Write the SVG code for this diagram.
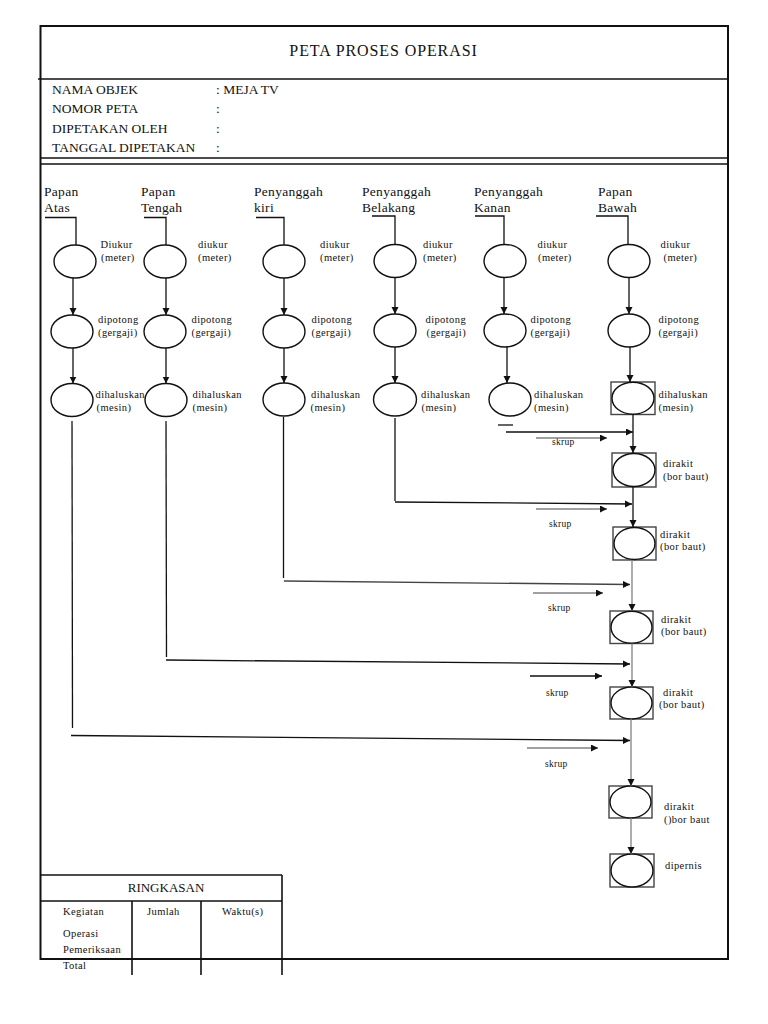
<svg xmlns="http://www.w3.org/2000/svg" width="768" height="1024" viewBox="0 0 768 1024">
<defs>
<marker id="ah" markerUnits="userSpaceOnUse" markerWidth="8" markerHeight="8" refX="7" refY="3.5" orient="auto"><path d="M0,0 L7,3.5 L0,7 z" fill="#111"/></marker>
</defs>
<style>
text{font-family:"Liberation Serif","Times New Roman",serif;fill:#111}
.frame{fill:none;stroke:#111;stroke-width:2}
.rule{fill:none;stroke:#111;stroke-width:1.6}
.title{font-size:16px;letter-spacing:0.9px}
.info{font-size:13.5px}
.col{font-size:13.5px;letter-spacing:0.3px}
.lbl{font-size:10.5px;letter-spacing:0.4px}
.sk{font-size:9.5px;letter-spacing:0.3px}
.tb{font-size:10.5px;letter-spacing:0.4px}
.op{fill:#fff;stroke:#111;stroke-width:1.4}
.box{fill:#fff;stroke:#444;stroke-width:1.4}
.ln{fill:none;stroke:#111;stroke-width:1.3}
.g{stroke:#808080}
.arr{marker-end:url(#ah)}
</style>
<rect width="768" height="1024" fill="#fff"/>

<g id="frame">
<rect class="frame" x="40.5" y="26" width="687.5" height="933"/>
<line class="rule" x1="38" y1="79" x2="728" y2="79"/>
<line class="rule" x1="40.5" y1="158" x2="728" y2="158"/>
<line class="rule" x1="40.5" y1="164" x2="728" y2="164"/>
</g>

<g id="header">
<text class="title" x="383.5" y="56" text-anchor="middle">PETA PROSES OPERASI</text>
<text class="info" x="52" y="93.5">NAMA OBJEK</text>
<text class="info" x="216" y="93.5">: MEJA TV</text>
<text class="info" x="52" y="113">NOMOR PETA</text>
<text class="info" x="216" y="113">:</text>
<text class="info" x="52" y="132.5">DIPETAKAN OLEH</text>
<text class="info" x="216" y="132.5">:</text>
<text class="info" x="52" y="151.5">TANGGAL DIPETAKAN</text>
<text class="info" x="216" y="151.5">:</text>
</g>

<g id="col-papan-atas">
<text class="col" x="44" y="196">Papan</text>
<text class="col" x="44" y="212">Atas</text>
<ellipse class="op" cx="75" cy="261.5" rx="21" ry="16.5"/>
<text class="lbl" x="100.5" y="247.5">Diukur</text>
<text class="lbl" x="101" y="260.5">(meter)</text>
<ellipse class="op" cx="72" cy="331.5" rx="21" ry="16.5"/>
<text class="lbl" x="98" y="323">dipotong</text>
<text class="lbl" x="98" y="336">(gergaji)</text>
<ellipse class="op" cx="72" cy="400" rx="21" ry="16.5"/>
<text class="lbl" x="95.5" y="397.5">dihaluskan</text>
<text class="lbl" x="96.5" y="410.5">(mesin)</text>
</g>

<g id="col-papan-tengah">
<text class="col" x="141" y="196">Papan</text>
<text class="col" x="141" y="212">Tengah</text>
<ellipse class="op" cx="165" cy="261.5" rx="21" ry="16.5"/>
<text class="lbl" x="198" y="247.5">diukur</text>
<text class="lbl" x="198" y="260.5">(meter)</text>
<ellipse class="op" cx="165" cy="331.5" rx="21" ry="16.5"/>
<text class="lbl" x="191.5" y="323">dipotong</text>
<text class="lbl" x="191.5" y="336">(gergaji)</text>
<ellipse class="op" cx="166" cy="400" rx="21" ry="16.5"/>
<text class="lbl" x="192.5" y="397.5">dihaluskan</text>
<text class="lbl" x="192.5" y="410.5">(mesin)</text>
</g>

<g id="col-penyanggah-kiri">
<text class="col" x="254" y="196">Penyanggah</text>
<text class="col" x="254" y="212">kiri</text>
<ellipse class="op" cx="284" cy="261.5" rx="21" ry="16.5"/>
<text class="lbl" x="320" y="247.5">diukur</text>
<text class="lbl" x="320" y="260.5">(meter)</text>
<ellipse class="op" cx="284" cy="331.5" rx="21" ry="16.5"/>
<text class="lbl" x="311.5" y="323">dipotong</text>
<text class="lbl" x="311.5" y="336">(gergaji)</text>
<ellipse class="op" cx="284" cy="399.5" rx="21" ry="16.5"/>
<text class="lbl" x="311" y="397.5">dihaluskan</text>
<text class="lbl" x="310.5" y="410.5">(mesin)</text>
</g>

<g id="col-penyanggah-belakang">
<text class="col" x="362" y="196">Penyanggah</text>
<text class="col" x="362" y="212">Belakang</text>
<ellipse class="op" cx="395" cy="261" rx="21" ry="16.5"/>
<text class="lbl" x="423" y="247.5">diukur</text>
<text class="lbl" x="423" y="260.5">(meter)</text>
<ellipse class="op" cx="395" cy="330.5" rx="21" ry="16.5"/>
<text class="lbl" x="425.5" y="323">dipotong</text>
<text class="lbl" x="426.5" y="336">(gergaji)</text>
<ellipse class="op" cx="395" cy="399.5" rx="21.5" ry="16.5"/>
<text class="lbl" x="421" y="397.5">dihaluskan</text>
<text class="lbl" x="421.5" y="410.5">(mesin)</text>
</g>

<g id="col-penyanggah-kanan">
<text class="col" x="474" y="196">Penyanggah</text>
<text class="col" x="474" y="212">Kanan</text>
<ellipse class="op" cx="505" cy="261" rx="21" ry="16.5"/>
<text class="lbl" x="537.5" y="247.5">diukur</text>
<text class="lbl" x="538" y="260.5">(meter)</text>
<ellipse class="op" cx="505" cy="330.5" rx="21" ry="16.5"/>
<text class="lbl" x="530.5" y="323">dipotong</text>
<text class="lbl" x="530.5" y="336">(gergaji)</text>
<ellipse class="op" cx="510" cy="399.5" rx="21" ry="16.5"/>
<text class="lbl" x="534" y="397.5">dihaluskan</text>
<text class="lbl" x="534" y="410.5">(mesin)</text>
</g>

<g id="col-papan-bawah">
<text class="col" x="598" y="196">Papan</text>
<text class="col" x="598" y="212">Bawah</text>
<ellipse class="op" cx="629" cy="261" rx="21" ry="16.5"/>
<text class="lbl" x="660.5" y="247.5">diukur</text>
<text class="lbl" x="663.5" y="260.5">(meter)</text>
<ellipse class="op" cx="629" cy="330.5" rx="21" ry="16.5"/>
<text class="lbl" x="658.5" y="323">dipotong</text>
<text class="lbl" x="658.5" y="336">(gergaji)</text>
<rect class="box" x="611" y="382" width="44" height="32.5"/>
<ellipse class="op" cx="633" cy="398.2" rx="21" ry="16"/>
<text class="lbl" x="658.5" y="397.5">dihaluskan</text>
<text class="lbl" x="658.5" y="410.5">(mesin)</text>
</g>

<g id="assembly-1">
<rect class="box" x="612" y="453" width="44" height="34"/>
<ellipse class="op" cx="634" cy="470" rx="21" ry="16.5"/>
<text class="lbl" x="663" y="467">dirakit</text>
<text class="lbl" x="663" y="479.5">(bor baut)</text>
</g>
<g id="assembly-2">
<rect class="box" x="613" y="527" width="43" height="33"/>
<ellipse class="op" cx="634.5" cy="543.5" rx="20.5" ry="16"/>
<text class="lbl" x="660" y="537.5">dirakit</text>
<text class="lbl" x="660" y="549.5">(bor baut)</text>
</g>
<g id="assembly-3">
<rect class="box" x="610" y="611" width="43" height="32.5"/>
<ellipse class="op" cx="631.5" cy="627.2" rx="20.5" ry="16"/>
<text class="lbl" x="661" y="622.5">dirakit</text>
<text class="lbl" x="661" y="634.5">(bor baut)</text>
</g>
<g id="assembly-4">
<rect class="box" x="610" y="687" width="43" height="32"/>
<ellipse class="op" cx="631.5" cy="703" rx="20.5" ry="16"/>
<text class="lbl" x="663" y="695.5">dirakit</text>
<text class="lbl" x="659" y="707.5">(bor baut)</text>
</g>
<g id="assembly-5">
<rect class="box" x="609" y="786" width="43" height="32"/>
<ellipse class="op" cx="630.5" cy="802" rx="20.5" ry="16"/>
<text class="lbl" x="664" y="810">dirakit</text>
<text class="lbl" x="664" y="822.5">()bor baut</text>
</g>
<g id="finish">
<rect class="box" x="610" y="854" width="44" height="33"/>
<ellipse class="op" cx="632" cy="870.5" rx="21" ry="16.5"/>
<text class="lbl" x="665" y="868.5">dipernis</text>
</g>

<g id="skrup-labels">
<text class="sk" x="552" y="444.5">skrup</text>
<text class="sk" x="549" y="526.5">skrup</text>
<text class="sk" x="548" y="610.5">skrup</text>
<text class="sk" x="546" y="695.5">skrup</text>
<text class="sk" x="545" y="766.5">skrup</text>
</g>

<g id="summary">
<line class="rule" x1="40.5" y1="875" x2="282" y2="875"/>
<line class="rule" x1="40.5" y1="901" x2="282" y2="901"/>
<line class="rule" x1="282" y1="875" x2="282" y2="975"/>
<line class="rule" x1="132" y1="901" x2="132" y2="975"/>
<line class="rule" x1="201" y1="901" x2="201" y2="975"/>
<text x="166" y="892" text-anchor="middle" style="font-size:13px">RINGKASAN</text>
<text class="tb" x="63" y="915">Kegiatan</text>
<text class="tb" x="147" y="915">Jumlah</text>
<text class="tb" x="222" y="915">Waktu(s)</text>
<text class="tb" x="63" y="937">Operasi</text>
<text class="tb" x="63" y="953">Pemeriksaan</text>
<text class="tb" x="63" y="969">Total</text>
</g>

<g id="connectors">
<path class="ln" d="M45,217.5 H76 V245"/>
<path class="ln" d="M144,217.5 H166 V245"/>
<path class="ln" d="M256,217.5 H284 V245"/>
<path class="ln" d="M372,216 H395 V244.5"/>
<path class="ln" d="M475,216 H504 V244.5"/>
<path class="ln" d="M596,216 H628 V244.5"/>

<line class="ln arr" x1="73" y1="278" x2="73" y2="315"/>
<line class="ln arr" x1="73" y1="348" x2="73" y2="383.5"/>
<line class="ln arr" x1="166" y1="278" x2="166" y2="315"/>
<line class="ln arr" x1="166" y1="348" x2="166" y2="383.5"/>
<line class="ln arr" x1="284" y1="278" x2="284" y2="315"/>
<line class="ln arr" x1="284" y1="348" x2="284" y2="383"/>
<line class="ln arr" x1="395" y1="277.5" x2="395" y2="314"/>
<line class="ln arr" x1="395" y1="347" x2="395" y2="383"/>
<line class="ln arr" x1="504" y1="277.5" x2="504" y2="314"/>
<line class="ln arr" x1="507" y1="347" x2="507" y2="383"/>
<line class="ln arr" x1="629" y1="277.5" x2="629" y2="314"/>
<line class="ln arr" x1="630" y1="347" x2="630" y2="382"/>

<line class="ln" x1="72" y1="421" x2="72.5" y2="728"/>
<line class="ln arr" x1="71" y1="735.5" x2="630" y2="740.5"/>
<line class="ln" x1="166" y1="421" x2="166.5" y2="657"/>
<line class="ln arr" x1="166" y1="660" x2="630" y2="664"/>
<line class="ln" x1="283.5" y1="417" x2="283.5" y2="578"/>
<line class="ln arr" x1="284" y1="581" x2="630" y2="584.5" style="stroke:#444"/>
<line class="ln" x1="395" y1="418" x2="395" y2="501"/>
<line class="ln arr" x1="395" y1="502" x2="632" y2="504"/>
<line class="ln" x1="498" y1="425" x2="513" y2="425"/>
<line class="ln arr" x1="506" y1="432" x2="633" y2="432"/>

<line class="ln arr g" x1="536" y1="438" x2="607" y2="438"/>
<line class="ln arr g" x1="536" y1="509" x2="607" y2="509"/>
<line class="ln arr g" x1="533" y1="593" x2="603" y2="593"/>
<line class="ln arr" x1="530" y1="676" x2="602" y2="676"/>
<line class="ln arr g" x1="527" y1="748" x2="598" y2="748"/>

<line class="ln arr" x1="633" y1="414.5" x2="633" y2="453"/>
<line class="ln arr" x1="633" y1="487" x2="633" y2="527"/>
<line class="ln arr g" x1="632" y1="560" x2="632" y2="611"/>
<line class="ln arr g" x1="632" y1="643.5" x2="632" y2="687"/>
<line class="ln arr g" x1="631" y1="719" x2="631" y2="786"/>
<line class="ln arr g" x1="631" y1="818" x2="631" y2="854"/>
</g>
</svg>
